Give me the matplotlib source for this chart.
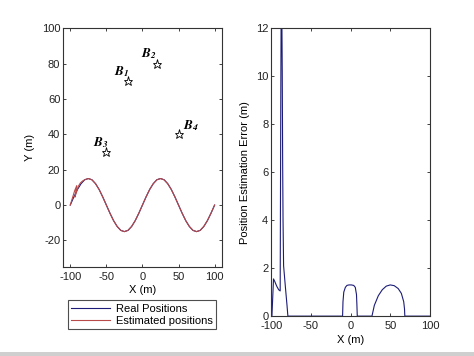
import matplotlib

matplotlib.use("Agg")
import matplotlib.pyplot as plt  # noqa: E402
from matplotlib.patches import Rectangle  # noqa: E402

plt.rcParams["font.family"] = ["Liberation Sans", "DejaVu Sans"]
plt.rcParams["mathtext.fontset"] = "stix"
plt.rcParams["axes.unicode_minus"] = False

# ── data ────────────────────────────────────────────────────────────────────
real_x = [-100, -95, -90, -85, -80, -75, -70, -65, -60, -55, -50, -45, -40, -35,
          -30, -25, -20, -15, -10, -5, 0, 5, 10, 15, 20, 25, 30, 35, 40, 45,
          50, 55, 60, 65, 70, 75, 80, 85, 90, 95, 100]
real_y = [0, 4.6, 8.8, 12.1, 14.3, 15, 14.3, 12.1, 8.8, 4.6, 0, -4.6, -8.8, -12.1,
          -14.3, -15, -14.3, -12.1, -8.8, -4.6, 0, 4.6, 8.8, 12.1, 14.3, 15, 14.3,
          12.1, 8.8, 4.6, 0, -4.6, -8.8, -12.1, -14.3, -15, -14.3, -12.1, -8.8,
          -4.6, 0]

est_x = [-100, -97, -94, -91, -93.5, -92, -89, -86, -83, -80, -75, -70, -65, -60,
         -55, -50, -45, -40, -35, -30, -25, -20, -15, -10, -5, 0, 5, 10, 15, 20,
         25, 30, 35, 40, 45, 50, 55, 60, 65, 70, 75, 80, 85, 90, 95, 100]
est_y = [0, 4.0, 8.0, 11.0, 4.5, 6.5, 10.5, 12.5, 13.6, 14.3, 15, 14.3, 12.1, 8.8,
         4.6, 0, -4.6, -8.8, -12.1, -14.3, -15, -14.3, -12.1, -8.8, -4.6, 0, 4.6,
         8.8, 12.1, 14.3, 15, 14.3, 12.1, 8.8, 4.6, 0, -4.6, -8.8, -12.1, -14.3,
         -15, -14.3, -12.1, -8.8, -4.6, 0]

beacon_x = [-20, 20, -50, 50]
beacon_y = [70, 80, 30, 40]
beacon_labels = [r"$\mathbfit{B}_{\mathbfit{1}}$", r"$\mathbfit{B}_{\mathbfit{2}}$",
                 r"$\mathbfit{B}_{\mathbfit{3}}$", r"$\mathbfit{B}_{\mathbfit{4}}$"]
label_x = [-40, -2, -69, 56]
label_y = [71, 81.5, 31, 40.5]

err_x = [-100, -99, -97, -95.5, -93, -90.5, -88.6, -87.8, -87.2, -86.5, -86,
         -85.5, -85, -84.3, -82, -80, -78.9, -20, -10, -9.5, -8.5, -6.5, -4.5,
         -2, 1, 4, 6, 7.5, 8, 8.5, 20, 27, 30, 35, 40, 45, 50, 55, 60, 64, 67,
         68, 68.4, 100]
err_y = [0, 0, 1.55, 1.45, 1.25, 1.1, 1.05, 9.3, 14, 12.5, 10.2, 6.5, 4.0, 2.1,
         1.2, 0.45, 0, 0, 0, 0.6, 1.0, 1.2, 1.28, 1.3, 1.3, 1.28, 1.2, 0.9, 0.5,
         0, 0, 0, 0.45, 0.85, 1.1, 1.25, 1.3, 1.27, 1.15, 0.95, 0.6, 0.3, 0, 0]

BLUE = "#1c1c78"
RED = "#b84a4a"
FS = 8

fig = plt.figure(figsize=(4.74, 3.56), dpi=100)
fig.patch.set_facecolor("white")


def _style(ax):
    ax.tick_params(direction="in", top=True, right=True, labelsize=FS,
                   length=2.5, width=0.6, pad=2, colors="#222222")
    ax.tick_params(axis="x", pad=3.5)
    for sp in ax.spines.values():
        sp.set_linewidth(0.8)
        sp.set_color("#333333")


# ── left: trajectory + beacons ───────────────────────────────────────────────
ax1 = fig.add_axes([0.133, 0.25, 0.335, 0.671])
l_real, = ax1.plot(real_x, real_y, color=BLUE, lw=0.8, label="Real Positions")
l_est, = ax1.plot(est_x, est_y, color=RED, lw=0.8, label="Estimated positions")
ax1.plot(beacon_x, beacon_y, linestyle="none", marker="*", markersize=6.5,
         markerfacecolor="none", markeredgecolor="black", markeredgewidth=0.6)
for lx, ly, lab in zip(label_x, label_y, beacon_labels):
    ax1.text(lx, ly, lab, fontsize=9.5, ha="left", va="bottom")
ax1.set_xlim(-110, 110)
ax1.set_ylim(-35, 100)
ax1.set_xticks([-100, -50, 0, 50, 100])
ax1.set_yticks([-20, 0, 20, 40, 60, 80, 100])
ax1.set_xlabel("X (m)", fontsize=FS, labelpad=2)
ax1.set_ylabel("Y (m)", fontsize=FS, labelpad=5)
_style(ax1)

# ── right: position error ────────────────────────────────────────────────────
ax2 = fig.add_axes([0.572, 0.112, 0.335, 0.809])
ax2.plot(err_x, err_y, color=BLUE, lw=0.8)
ax2.set_xlim(-100, 100)
ax2.set_ylim(0, 12)
ax2.set_xticks([-100, -50, 0, 50, 100])
ax2.set_yticks([0, 2, 4, 6, 8, 10, 12])
ax2.set_xlabel("X (m)", fontsize=FS, labelpad=3)
ax2.set_ylabel("Position Estimation Error (m)", fontsize=FS, labelpad=4)
_style(ax2)

leg = fig.legend(handles=[l_real, l_est], loc="center",
                 bbox_to_anchor=(0.2996, 0.116), fontsize=FS, frameon=True,
                 fancybox=False, handlelength=3.5, borderpad=0.3,
                 labelspacing=0.2, handletextpad=0.5)
leg.get_frame().set_edgecolor("#222222")
leg.get_frame().set_linewidth(0.8)

# grey strip along the bottom edge, as in the screenshot
fig.patches.append(Rectangle((0, 0), 1, 0.012, transform=fig.transFigure,
                             facecolor="#cfcfcf", edgecolor="none"))

fig.savefig("out.png", dpi=100)
